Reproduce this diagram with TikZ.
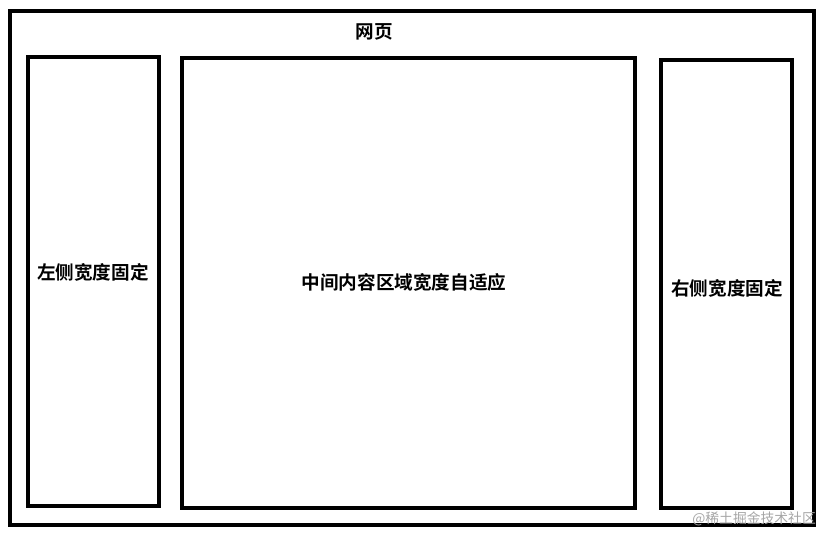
\documentclass[tikz,border=0pt]{standalone}
\usepackage{fontspec}
\newfontfamily\cjk{Noto Sans CJK SC}[BoldFont={Noto Sans CJK SC Bold}]
\begin{document}
\begin{tikzpicture}[x=1pt,y=-1pt,
  box/.style={draw=black,line width=3.5pt},
  lbl/.style={font=\cjk\bfseries\fontsize{18.6}{21}\selectfont,inner sep=0pt},
  wm/.style={font=\cjk\fontsize{13.8}{15}\selectfont,text=black!35,inner sep=0pt}]
\useasboundingbox (0,0) rectangle (820,533);
\draw[box] (10,11) rectangle (814,525);
\draw[box] (28,57) rectangle (159,506);
\draw[box] (182,58) rectangle (635,508);
\draw[box] (661,60) rectangle (792,508);
\node[lbl] (title) at (374,32) {网页};
\node[lbl] (l) at (93,272) {左侧宽度固定};
\node[lbl] (m) at (404,282) {中间内容区域宽度自适应};
\node[lbl] (r) at (727,288) {右侧宽度固定};
\node[wm,anchor=east] (w) at (816,519) {@稀土掘金技术社区};
\end{tikzpicture}
\end{document}
